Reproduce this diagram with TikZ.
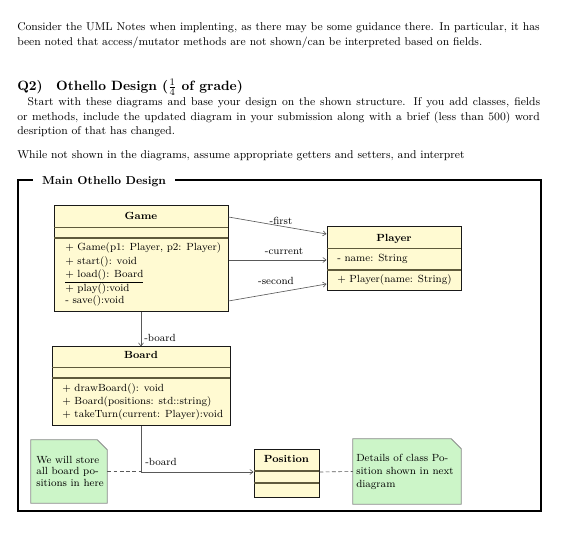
\documentclass[tikz,border=0pt]{standalone}
\usetikzlibrary{arrows.meta}
\definecolor{sepc}{RGB}{95,90,60}
\definecolor{notefill}{RGB}{204,245,200}
\definecolor{classfill}{RGB}{255,250,210}
\begin{document}
\begin{tikzpicture}[x=0.8pt,y=-0.8pt,
  btxt/.style={font=\fontsize{9.05}{11}\selectfont, inner sep=0pt, anchor=base west},
  htxt/.style={font=\fontsize{10.8}{13}\selectfont\bfseries, inner sep=0pt, anchor=base west},
  frame/.style={draw=black, line width=1.8pt},
  ftitle/.style={font=\fontsize{9.2}{11}\selectfont\bfseries, fill=white, inner xsep=7pt, inner ysep=1pt, anchor=base},
  umlclass/.style={draw=black!90, fill=classfill, line width=0.8pt, inner sep=0pt},
  umlsep/.style={draw=sepc, line width=1.3pt},
  dtxt/.style={font=\fontsize{8.3}{10}\selectfont, inner sep=0pt, anchor=base west},
  dtitle/.style={font=\fontsize{8.3}{10}\selectfont\bfseries, inner sep=0pt, anchor=base},
  lbl/.style={font=\fontsize{8.3}{10}\selectfont, inner sep=0pt},
  notearea/.style={inner sep=0pt},
  notebox/.style={draw=black!45, fill=notefill, line width=0.6pt},
  assoc/.style={draw=black!65, line width=0.5pt, -{Straight Barb[length=2.5pt,width=4pt]}},
  dashline/.style={draw=black!65, line width=0.5pt, dash pattern=on 3pt off 2pt}
]
\useasboundingbox[fill=white] (0,0) rectangle (577,551);

% ---- body text ----
\node[btxt] (t1) at (17,31) {\makebox[418pt][s]{Consider the UML Notes when implenting, as there may be some guidance there. In particular, it has}};
\node[btxt] (t2) at (17,46) {been noted that access/mutator methods are not shown/can be interpreted based on fields.};
\node[htxt] (h1) at (17,91) {Q2)\hspace{1em}Othello Design ($\frac{1}{4}$ of grade)};
\node[btxt] (t3) at (27.5,106) {\makebox[410pt][s]{Start with these diagrams and base your design on the shown structure. If you add classes, fields}};
\node[btxt] (t4) at (17,120.5) {\makebox[418pt][s]{or methods, include the updated diagram in your submission along with a brief (less than 500) word}};
\node[btxt] (t5) at (17,135) {desription of that has changed.};
\node[btxt] (t6) at (17,159) {While not shown in the diagrams, assume appropriate getters and setters, and interpret};

% ---- frame ----
\draw[frame] (18,180) rectangle (541,511);
\node[ftitle] (ft) at (104,184.5) {Main Othello Design};

% ---- Game ----
\node[umlclass, minimum width=139.2pt, minimum height=84.8pt] (game) at (141,259) {};
\draw[umlsep] (54,227.5) -- (228,227.5);
\draw[umlsep] (54,238) -- (228,238);
\node[dtitle] (gt) at (141,219.7) {Game};
\node[dtxt] (gm1) at (65,250.3) {+ Game(p1: Player, p2: Player)};
\node[dtxt] (gm2) at (65,264.7) {+ start(): void};
\node[dtxt] (gm3) at (65,278) {\underline{+ load(): Board}};
\node[dtxt] (gm4) at (65,291.3) {+ play():void};
\node[dtxt] (gm5) at (65,304) {- save():void};

% ---- Player ----
\node[umlclass, minimum width=107.2pt, minimum height=51.2pt] (player) at (394,259) {};
\draw[umlsep] (327,248.5) -- (461,248.5);
\draw[umlsep] (327,270) -- (461,270);
\node[dtitle] (pt) at (394,241.3) {Player};
\node[dtxt] (pa1) at (337,261.3) {- name: String};
\node[dtxt] (pm1) at (337,283) {+ Player(name: String)};

% ---- Board ----
\node[umlclass, minimum width=142.4pt, minimum height=63.2pt] (board) at (141,386.5) {};
\draw[umlsep] (52,367.5) -- (230,367.5);
\draw[umlsep] (52,378) -- (230,378);
\node[dtitle] (bt) at (141,359) {Board};
\node[dtxt] (bm1) at (62,391.3) {+ drawBoard(): void};
\node[dtxt] (bm2) at (62,404.7) {+ Board(positions: std::string)};
\node[dtxt] (bm3) at (62,418) {+ takeTurn(current: Player):void};

% ---- Position ----
\node[umlclass, minimum width=52pt, minimum height=38.4pt] (position) at (286.5,474) {};
\draw[umlsep] (254,471) -- (319,471);
\draw[umlsep] (254,483) -- (319,483);
\node[dtitle] (post) at (286.5,463) {Position};

% ---- notes ----
\node[notearea, minimum width=60.8pt, minimum height=50.4pt] (noteL) at (69,471.5) {};
\draw[notebox] (noteL.north west) -- ([xshift=-8pt]noteL.north east) -- ([yshift=-8pt]noteL.north east) -- (noteL.south east) -- (noteL.south west) -- cycle;
\node[dtxt] (nl1) at (36,463.5) {We will store};
\node[dtxt] (nl2) at (36,475) {all board po-};
\node[dtxt] (nl3) at (36,486.5) {sitions in here};

\node[notearea, minimum width=86.4pt, minimum height=52pt] (noteR) at (407,471.5) {};
\draw[notebox] (noteR.north west) -- ([xshift=-8pt]noteR.north east) -- ([yshift=-8pt]noteR.north east) -- (noteR.south east) -- (noteR.south west) -- cycle;
\node[dtxt] (nr1) at (356,462) {Details of class Po-};
\node[dtxt] (nr2) at (356,475) {sition shown in next};
\node[dtxt] (nr3) at (356,488) {diagram};

% ---- connectors ----
\draw[assoc] ([yshift=33.6pt]game.east) -- ([yshift=20pt]player.west);
\draw[assoc] ([yshift=-0.8pt]game.east) -- ([yshift=-0.8pt]player.west);
\draw[assoc] ([yshift=-33.6pt]game.east) -- ([yshift=-20pt]player.west);
\node[lbl, anchor=base] (lfirst) at (281,225) {-first};
\node[lbl, anchor=base] (lcurrent) at (284,254.5) {-current};
\node[lbl, anchor=base] (lsecond) at (276,285) {-second};

\draw[assoc] (game.south) -- (board.north);
\node[lbl, anchor=base west] (lboard1) at (144,342) {-board};

\draw[assoc] (board.south) |- ([yshift=1.6pt]position.west);
\node[lbl, anchor=base west] (lboard2) at (145,466) {-board};

\draw[dashline] (noteL.east) -- (board.south |- noteL.east);
\draw[dashline] ([yshift=1.6pt]position.east) -- (noteR.west);
\end{tikzpicture}
\end{document}
